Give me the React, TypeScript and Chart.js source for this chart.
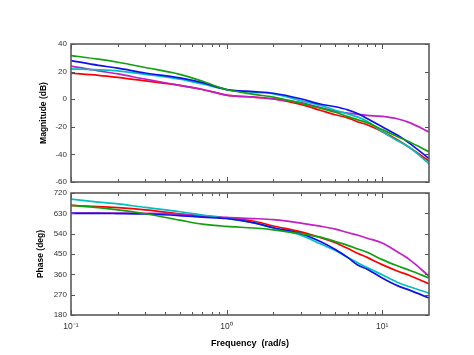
import React, { useEffect, useRef } from "react";
import { Chart, registerables } from "chart.js";

Chart.register(...registerables);

const freq = [0.1, 0.15, 0.2, 0.3, 0.5, 0.7, 1, 1.5, 2, 3, 4, 5, 6, 7, 8, 10, 12.5, 15, 20];

const magGreen = [31.6, 29.0, 26.8, 23.0, 18.0, 13.0, 7.0, 3.5, 1.5, -2.9, -6.5, -9.5, -12.5, -15.0, -17.0, -22.0, -27.0, -31.0, -38.0];
const magBlue = [28.0, 24.5, 22.5, 19.0, 15.5, 12.0, 7.0, 5.5, 4.3, 0.3, -3.5, -5.5, -7.7, -10.5, -14.0, -20.0, -26.0, -32.0, -43.0];
const magCyan = [22.0, 21.3, 20.5, 18.0, 14.5, 11.0, 7.0, 5.0, 3.9, -1.0, -4.5, -8.0, -10.6, -13.0, -16.0, -23.5, -30.0, -35.0, -46.7];
const magMagenta = [24.0, 20.5, 18.3, 14.5, 10.0, 7.0, 3.0, 1.5, 0.3, -2.4, -6.0, -8.8, -10.0, -11.0, -11.7, -12.5, -14.2, -17.0, -23.8];
const magRed = [18.8, 17.3, 15.8, 13.3, 10.0, 7.0, 3.0, 1.5, 0.2, -3.8, -8.0, -11.3, -13.5, -16.5, -18.5, -23.5, -29.4, -35.0, -44.8];

const phGreen = [665, 655, 645, 628, 600, 582, 572, 565, 557, 540, 525, 505, 488, 472, 458, 425, 398, 378, 344];
const phBlue = [630, 630, 629, 627, 620, 613, 607, 588, 566, 540, 505, 470, 435, 400, 383, 344, 310, 290, 255];
const phCyan = [693, 680, 672, 656, 637, 622, 607, 588, 565, 533, 495, 465, 435, 410, 390, 358, 325, 305, 277];
const phMagenta = [631, 631, 631, 630, 627, 620, 612, 607, 602, 587, 573, 560, 545, 533, 520, 499, 460, 425, 352];
const phRed = [665, 660, 655, 645, 628, 618, 609, 595, 574, 548, 523, 500, 475, 452, 435, 403, 375, 355, 318];

const seriesColors = ["#10a010", "#1010e8", "#00c0c0", "#c020c8", "#ff0000"];

const xMin = 0.1;
const xMax = 20;
const xMajor = [0.1, 1, 10];
const xMajorLabels = ["10\u207B\u00B9", "10\u2070", "10\u00B9"];
const xMinor = [0.2, 0.3, 0.4, 0.5, 0.6, 0.7, 0.8, 0.9, 2, 3, 4, 5, 6, 7, 8, 9];

const magTicks = { min: -60, max: 40, step: 20 };
const phTicks = { min: 180, max: 720, step: 90 };

const FONT = "'Liberation Sans', Arial, sans-serif";
const W = 474;
const H = 355;

const framePlugin = {
  id: "matlabFrame",
  afterDatasetsDraw(chart: any) {
    const { ctx, chartArea: a, scales } = chart;
    const xs = scales.x;
    const ys = scales.y;
    ctx.save();
    ctx.strokeStyle = "#555555";
    ctx.lineWidth = 1;
    const line = (x1: number, y1: number, x2: number, y2: number) => {
      ctx.beginPath();
      ctx.moveTo(x1, y1);
      ctx.lineTo(x2, y2);
      ctx.stroke();
    };
    for (const t of ys.ticks) {
      const py = Math.round(ys.getPixelForValue(t.value)) + 0.5;
      line(a.left, py, a.left + 4, py);
      line(a.right, py, a.right - 4, py);
    }
    const drawX = (v: number, len: number) => {
      const px = Math.round(xs.getPixelForValue(v)) + 0.5;
      line(px, a.top, px, a.top + len);
      line(px, a.bottom, px, a.bottom - len);
    };
    xMajor.forEach((v) => drawX(v, 5));
    xMinor.forEach((v) => drawX(v, 3));
    ctx.lineWidth = 1.6;
    ctx.strokeStyle = "#5a5a5a";
    ctx.strokeRect(a.left, a.top, a.right - a.left, a.bottom - a.top);
    ctx.restore();
  },
};

function makeDatasets(series: number[][]) {
  return series.map((vals, i) => ({
    data: freq.map((f, k) => ({ x: f, y: vals[k] })),
    borderColor: seriesColors[i],
    backgroundColor: seriesColors[i],
    borderWidth: 1.7,
    pointRadius: 0,
    cubicInterpolationMode: "monotone" as const,
    fill: false,
  }));
}

function yScale(t: { min: number; max: number; step: number }, title: string, width: number) {
  return {
    type: "linear" as const,
    min: t.min,
    max: t.max,
    grid: { display: false, drawTicks: false },
    border: { display: false },
    ticks: {
      stepSize: t.step,
      padding: 4,
      color: "#333333",
      font: { family: FONT, size: 8 },
    },
    title: {
      display: true,
      text: title,
      color: "#000000",
      padding: 0,
      font: { family: FONT, size: 8.5, weight: "bold" as const },
    },
    afterFit: (s: any) => {
      s.width = width;
    },
  };
}

function BodeChart(props: { kind: "mag" | "phase" }) {
  const ref = useRef<HTMLCanvasElement | null>(null);
  useEffect(() => {
    const canvas = ref.current;
    if (!canvas) return;
    const isMag = props.kind === "mag";
    const padLeft = isMag ? 38.4 : 35.9;
    const datasets = isMag
      ? makeDatasets([magGreen, magBlue, magCyan, magMagenta, magRed])
      : makeDatasets([phGreen, phBlue, phCyan, phMagenta, phRed]);
    const chart = new Chart(canvas, {
      type: "line",
      data: { datasets },
      plugins: [framePlugin],
      options: {
        animation: false,
        responsive: false,
        devicePixelRatio: 1,
        layout: {
          padding: isMag
            ? { left: padLeft, right: 45, top: 44, bottom: H - 182 }
            : { left: padLeft, right: 45, top: 193, bottom: 6 },
        },
        plugins: { legend: { display: false }, tooltip: { enabled: false } },
        scales: {
          x: {
            type: "logarithmic",
            min: xMin,
            max: xMax,
            display: !isMag,
            grid: { display: false, drawTicks: false },
            border: { display: false },
            afterBuildTicks: (s: any) => {
              s.ticks = xMajor.map((v) => ({ value: v }));
            },
            ticks: {
              autoSkip: false,
              maxRotation: 0,
              padding: 7,
              color: "#333333",
              font: { family: FONT, size: 8.5 },
              callback: (v: any) => {
                const idx = xMajor.findIndex((m) => Math.abs(m - Number(v)) < 1e-9);
                return idx >= 0 ? xMajorLabels[idx] : "";
              },
            },
            title: {
              display: !isMag,
              text: "Frequency  (rad/s)",
              color: "#000000",
              padding: 0,
              font: { family: FONT, size: 9, weight: "bold" },
            },
            afterFit: (s: any) => {
              s.height = isMag ? 0 : 34;
            },
          },
          y: isMag
            ? yScale(magTicks, "Magnitude (dB)", 71 - padLeft)
            : yScale(phTicks, "Phase (deg)", 71 - padLeft),
        },
      } as any,
    });
    return () => chart.destroy();
  }, [props.kind]);
  return (
    <canvas
      ref={ref}
      width={W}
      height={H}
      style={{ position: "absolute", left: 0, top: 0, width: W, height: H }}
    />
  );
}

export default function App() {
  return (
    <div
      style={{
        position: "absolute",
        left: 0,
        top: 0,
        width: W,
        height: H,
        background: "#ffffff",
      }}
    >
      <BodeChart kind="phase" />
      <BodeChart kind="mag" />
    </div>
  );
}
